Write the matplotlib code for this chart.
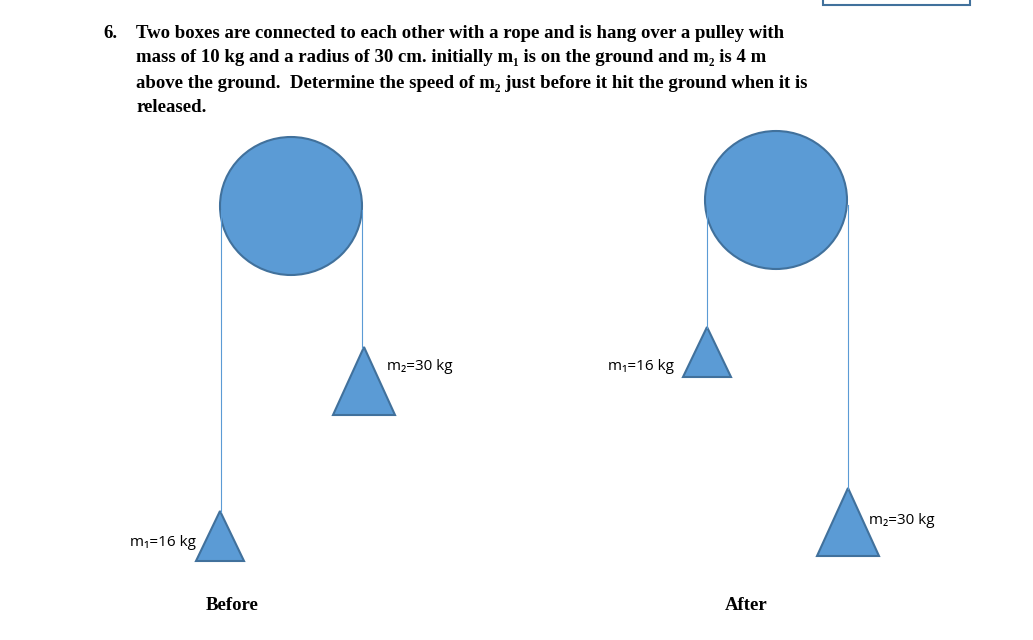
import matplotlib.pyplot as plt
from matplotlib.patches import Ellipse, Polygon, Rectangle

# question text
question_lines = [
    "Two boxes are connected to each other with a rope and is hang over a pulley with",
    "mass of 10 kg and a radius of 30 cm. initially m\u2081 is on the ground and m\u2082 is 4 m",
    "above the ground.  Determine the speed of m\u2082 just before it hit the ground when it is",
    "released.",
]

# pulleys (center x, center y, width, height) in pixels
pulley_x = [291, 776]
pulley_y = [206, 200]
pulley_w = [142, 142]
pulley_h = [138, 138]

# ropes: x, top y, bottom y
rope_x = [221, 362, 707, 848]
rope_top = [210, 210, 205, 205]
rope_bottom = [512, 348, 328, 489]

# triangles: apex x, apex y, half base, height
tri_x = [364, 220, 707, 848]
tri_y = [347, 511, 327, 488]
tri_half = [31, 24, 24, 31]
tri_h = [68, 50, 50, 68]

labels = ["m\u2082=30 kg", "m\u2081=16 kg", "m\u2081=16 kg", "m\u2082=30 kg"]
label_x = [387, 196, 608, 869]
label_y = [367, 543, 366, 520]
label_ha = ["left", "right", "left", "left"]

captions = ["Before", "After"]
caption_x = [232, 746]

fill = "#5B9BD5"
edge = "#41719C"

fig = plt.figure(figsize=(10.33, 6.4), dpi=100)
ax = fig.add_axes([0, 0, 1, 1])
ax.set_xlim(0, 1033)
ax.set_ylim(640, 0)
ax.axis("off")

# partial box top right
ax.add_patch(Rectangle((823, -10), 147, 15, fill=False, edgecolor=edge, lw=1.5))

serif = "Liberation Serif"
ax.text(103, 33, "6.", fontsize=13.5, fontweight="bold", family=serif, va="center")
for i, line in enumerate(question_lines):
    ax.text(136, 33 + i * 25, line, fontsize=13.5, fontweight="bold", family=serif, va="center")

for cx, cy, w, h in zip(pulley_x, pulley_y, pulley_w, pulley_h):
    ax.add_patch(Ellipse((cx, cy), w, h, facecolor=fill, edgecolor=edge, lw=1.5))

for x, t, b in zip(rope_x, rope_top, rope_bottom):
    ax.plot([x, x], [t, b], color=fill, lw=0.8)

for x, y, hb, h in zip(tri_x, tri_y, tri_half, tri_h):
    ax.add_patch(Polygon([(x, y), (x - hb, y + h), (x + hb, y + h)],
                         closed=True, facecolor=fill, edgecolor=edge, lw=1.5))

for s, x, y, ha in zip(labels, label_x, label_y, label_ha):
    ax.text(x, y, s, fontsize=11, family="Open Sans", ha=ha, va="center")

for s, x in zip(captions, caption_x):
    ax.text(x, 605, s, fontsize=13.5, fontweight="bold", family=serif, ha="center", va="center")

fig.savefig("out.png", dpi=100)
